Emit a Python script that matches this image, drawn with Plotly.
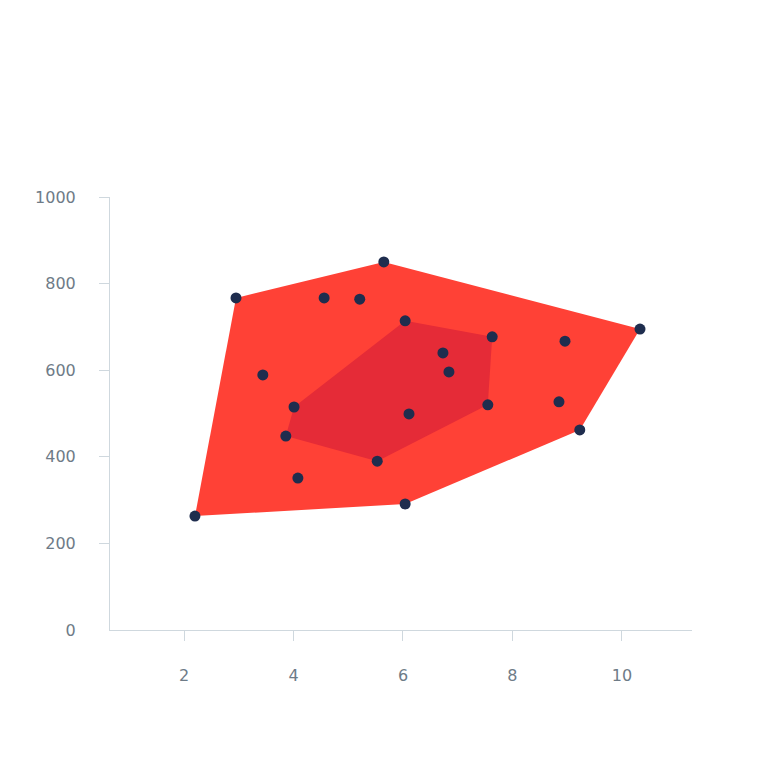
import plotly.graph_objects as go

# Data
x_vals = [2.20, 2.95, 5.65, 10.33, 9.23, 6.04, 4.56, 5.21, 3.44, 4.01, 3.86,
          4.08, 5.53, 6.04, 6.73, 6.84, 6.11, 7.63, 7.55, 8.96, 8.85]
y_vals = [263, 767, 850, 695, 462, 291, 767, 764, 589, 515, 448,
          351, 390, 714, 640, 596, 499, 677, 520, 667, 527]
# 1 = point belongs to the inner (core) group, 0 = outer group only
inner_group = [0, 0, 0, 0, 0, 0, 0, 0, 0, 1, 1,
               0, 1, 1, 1, 1, 1, 1, 1, 0, 0]
x_ticks = [2, 4, 6, 8, 10]
y_ticks = [0, 200, 400, 600, 800, 1000]
y_tick_marks = [200, 400, 600, 800, 1000]
layer_colors = ["#FF4136", "#E52B37"]


def convex_hull(pts):
    pts = sorted(set(pts))
    if len(pts) <= 2:
        return pts

    def cross(o, a, b):
        return (a[0] - o[0]) * (b[1] - o[1]) - (a[1] - o[1]) * (b[0] - o[0])

    lower = []
    for p in pts:
        while len(lower) >= 2 and cross(lower[-2], lower[-1], p) <= 0:
            lower.pop()
        lower.append(p)
    upper = []
    for p in reversed(pts):
        while len(upper) >= 2 and cross(upper[-2], upper[-1], p) <= 0:
            upper.pop()
        upper.append(p)
    return lower[:-1] + upper[:-1]


points = list(zip(x_vals, y_vals))
groups = [points, [p for p, g in zip(points, inner_group) if g == 1]]

fig = go.Figure()
for grp, col in zip(groups, layer_colors):
    hull = convex_hull(grp)
    hx = [p[0] for p in hull] + [hull[0][0]]
    hy = [p[1] for p in hull] + [hull[0][1]]
    fig.add_trace(go.Scatter(x=hx, y=hy, mode="lines", fill="toself",
                             fillcolor=col, line=dict(width=0, color=col),
                             hoverinfo="skip", showlegend=False))

fig.add_trace(go.Scatter(x=x_vals, y=y_vals, mode="markers",
                         marker=dict(size=11, color="#1F2D4E"),
                         showlegend=False))

# invisible trace so the tick-mark-only overlay axis is drawn
fig.add_trace(go.Scatter(x=[x_ticks[0]], y=[y_ticks[0]], yaxis="y2",
                         mode="markers", marker=dict(opacity=0),
                         hoverinfo="skip", showlegend=False))

axis_font = dict(family="DejaVu Sans, sans-serif", size=16, color="#6E7B87")
line_col = "#CFD8DE"
fig.update_layout(
    width=768, height=768,
    margin=dict(l=102, r=84, t=189, b=146),
    paper_bgcolor="white", plot_bgcolor="white",
    xaxis=dict(range=[0.648, 11.28], tickvals=x_ticks, showgrid=False,
               zeroline=False, showline=True, linecolor=line_col, linewidth=1,
               ticks="outside", ticklen=10, tickcolor=line_col,
               tickfont=axis_font, ticklabelstandoff=21),
    yaxis=dict(range=[0, 1000], tickvals=y_ticks, showgrid=False,
               zeroline=False, showline=True, linecolor=line_col, linewidth=1,
               ticks="", tickfont=axis_font, ticklabelstandoff=30),
    yaxis2=dict(range=[0, 1000], tickvals=y_tick_marks, overlaying="y",
                side="left", showgrid=False, zeroline=False, showline=False,
                ticks="outside", ticklen=10, tickcolor=line_col,
                showticklabels=False),
)

fig.write_html("out.html")
